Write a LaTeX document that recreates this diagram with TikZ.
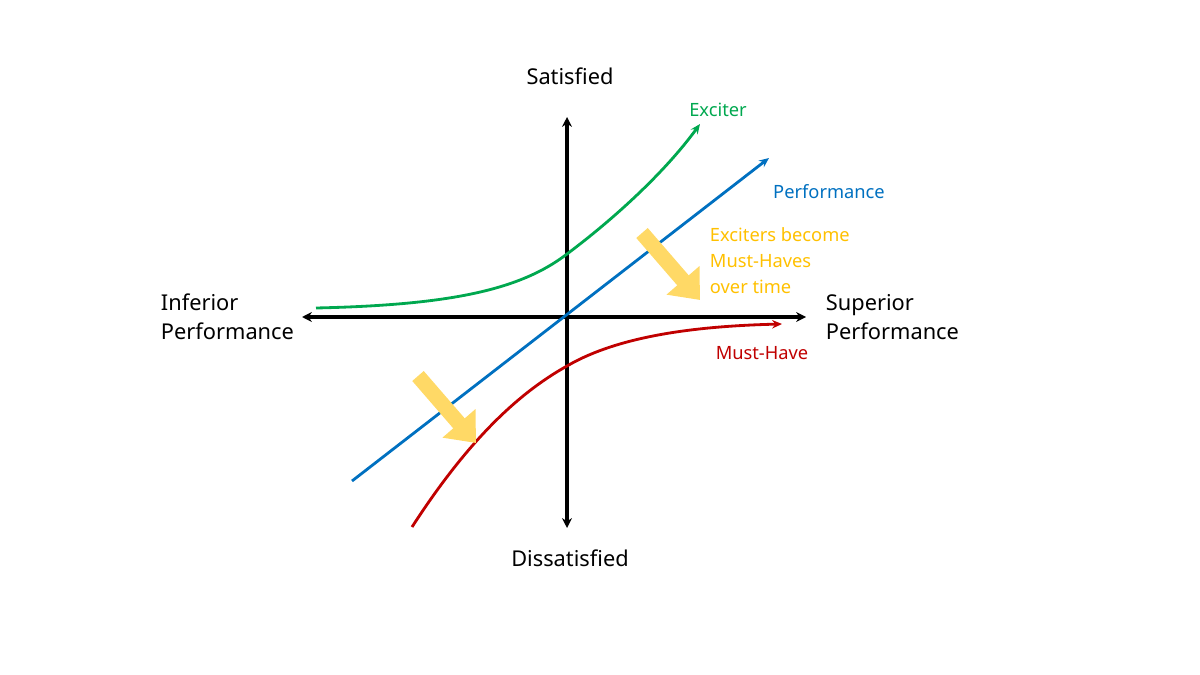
\documentclass[tikz,border=0pt]{standalone}
\usepackage{fontspec}
\setmainfont{Noto Sans}
\usetikzlibrary{arrows.meta}
\definecolor{gr}{HTML}{00A84F}
\definecolor{bl}{HTML}{0070C0}
\definecolor{rd}{HTML}{C00000}
\definecolor{og}{HTML}{FFC000}
\definecolor{yl}{HTML}{FFD966}
\begin{document}
\begin{tikzpicture}[x=0.025cm,y=-0.025cm,
 ax/.style={line width=2.2pt,{Stealth[length=7pt,width=7pt]}-{Stealth[length=7pt,width=7pt]}},
 crv/.style={line width=2pt,-{Stealth[length=7pt,width=6pt]}},
 big/.style={font=\fontsize{15.5}{21}\selectfont},
 sm/.style={font=\fontsize{13}{18.5}\selectfont},
 fat/.style={yl,line width=0.38cm,-{Triangle[length=0.65cm,width=1.05cm]}}]
\useasboundingbox (0,0) rectangle (1200,675);
\coordinate (L) at (302,317); \coordinate (R) at (806,317);
\coordinate (T) at (567,117); \coordinate (B) at (567,528);
\draw[ax] (L) -- (R);
\draw[ax] (T) -- (B);
\coordinate (b1) at (352,481); \coordinate (b2) at (769,158);
\draw[crv,bl] (b1) -- (b2);
\coordinate (g1) at (316,308); \coordinate (g2) at (567,254); \coordinate (g3) at (700,124);
\draw[crv,gr] (g1) .. controls (450,305) and (520,290) .. (g2) .. controls (615,218) and (665,172) .. (g3);
\coordinate (r1) at (412,527); \coordinate (r2) at (567,366); \coordinate (r3) at (782,324);
\draw[crv,rd] (r1) .. controls (465,445) and (515,395) .. (r2) .. controls (620,335) and (700,326) .. (r3);
\coordinate (y1) at (642,233); \coordinate (y2) at (700,300);
\draw[fat] (y1) -- (y2);
\coordinate (y3) at (418,376); \coordinate (y4) at (476,443);
\draw[fat] (y3) -- (y4);
\node[big] (sat) at (570,76) {Satisfied};
\node[big] (dis) at (570,558) {Dissatisfied};
\node[big,anchor=west,align=left] (inf) at (156,317) {Inferior\\Performance};
\node[big,anchor=west,align=left] (sup) at (821,317) {Superior\\Performance};
\node[sm,gr] (ex) at (718,110) {Exciter};
\node[sm,bl] (pf) at (829,192) {Performance};
\node[sm,og,anchor=north west,align=left] (eb) at (705,223) {Exciters become\\Must-Haves\\over time};
\node[sm,rd] (mh) at (762,353) {Must-Have};
\end{tikzpicture}
\end{document}
